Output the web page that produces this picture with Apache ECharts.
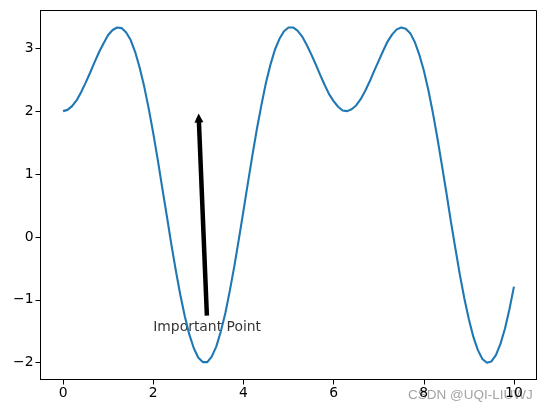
<!DOCTYPE html>
<html>
<head>
<meta charset="utf-8">
<script src="https://cdn.jsdelivr.net/npm/echarts@6/dist/echarts.min.js"></script>
<style>
html,body{margin:0;padding:0;background:#fff;}
#main{width:546px;height:413px;}
</style>
</head>
<body>
<div id="main"></div>
<script>
/*曲线采样点*/
var xs = [0.0,0.1,0.2,0.3,0.4,0.5,0.6,0.7,0.8,0.9,1.0,1.1,1.2,1.3,1.4,1.5,1.6,1.7,1.8,1.9,
	2.0,2.1,2.2,2.3,2.4,2.5,2.6,2.7,2.8,2.9,3.0,3.1,3.2,3.3,3.4,3.5,3.6,3.7,3.8,3.9,
	4.0,4.1,4.2,4.3,4.4,4.5,4.6,4.7,4.8,4.9,5.0,5.1,5.2,5.3,5.4,5.5,5.6,5.7,5.8,5.9,
	6.0,6.1,6.2,6.3,6.4,6.5,6.6,6.7,6.8,6.9,7.0,7.1,7.2,7.3,7.4,7.5,7.6,7.7,7.8,7.9,
	8.0,8.1,8.2,8.3,8.4,8.5,8.6,8.7,8.8,8.9,9.0,9.1,9.2,9.3,9.4,9.5,9.6,9.7,9.8,9.9,10.0];
var ys = [2.00,2.02,2.08,2.17,2.30,2.45,2.61,2.78,2.94,3.08,3.21,3.29,3.33,3.32,3.25,3.13,2.94,2.69,2.39,2.04,
	1.65,1.23,0.78,0.34,-0.11,-0.53,-0.92,-1.26,-1.55,-1.77,-1.92,-1.99,-1.99,-1.90,-1.74,-1.50,-1.21,-0.85,-0.46,-0.03,
	0.41,0.86,1.30,1.72,2.10,2.45,2.74,2.98,3.15,3.27,3.33,3.33,3.28,3.19,3.06,2.91,2.75,2.58,2.42,2.27,
	2.16,2.07,2.01,2.00,2.03,2.09,2.19,2.32,2.47,2.64,2.80,2.96,3.11,3.22,3.30,3.33,3.31,3.24,3.10,2.90,
	2.65,2.34,1.98,1.58,1.15,0.71,0.25,-0.18,-0.60,-0.98,-1.31,-1.59,-1.80,-1.94,-2.00,-1.98,-1.88,-1.70,-1.46,-1.15,-0.79];
/*刻度*/
var xTicks = [0,2,4,6,8,10];
var yTicks = [-2,-1,0,1,2,3];
/*标注: 箭头尾, 箭头头(三角中心), 文字位置*/
var arrowFrom = [3.19,-1.25];
var arrowTo = [3.01,1.89];
var noteAt = [2,-1.5];
var noteText = "Important Point";

var lineData = [];
for (var i = 0; i < xs.length; i++) {
	lineData.push([xs[i], ys[i]]);
}
var minus = function(v){ return String(v).replace('-', '\u2212'); };
var font = 'DejaVu Sans';

var chart = echarts.init(document.getElementById('main'));
var option = {
	animation: false,
	backgroundColor: '#fff',
	grid: {
		left: 40.5, right: 9.5, top: 10.5, bottom: 33.5,
		show: true, borderColor: '#000', borderWidth: 1
	},
	xAxis: {
		type: 'value', min: -0.5, max: 10.5,
		splitLine: {show: false},
		axisLine: {show: true, onZero: false, lineStyle: {color: '#000', width: 1}},
		axisTick: {show: true, length: 5, lineStyle: {color: '#000'}, customValues: xTicks},
		axisLabel: {color: '#000', fontSize: 13.9, fontFamily: font, margin: 7, customValues: xTicks, formatter: minus}
	},
	yAxis: {
		type: 'value', min: -2.267, max: 3.6,
		splitLine: {show: false},
		axisLine: {show: true, onZero: false, lineStyle: {color: '#000', width: 1}},
		axisTick: {show: true, length: 5, lineStyle: {color: '#000'}, customValues: yTicks},
		axisLabel: {color: '#000', fontSize: 13.9, fontFamily: font, margin: 7, customValues: yTicks, formatter: minus}
	},
	series: [{
		type: 'line',
		data: lineData,
		smooth: false,
		showSymbol: false,
		lineStyle: {color: '#1f77b4', width: 2.1},
		silent: true,
		markLine: {
			silent: true,
			animation: false,
			symbol: ['none', 'triangle'],
			symbolSize: 9,
			label: {show: false},
			itemStyle: {color: '#000'},
			lineStyle: {color: '#000', width: 4.5, type: 'solid'},
			emphasis: {disabled: true},
			data: [[{coord: arrowFrom}, {coord: arrowTo}]]
		}
	}, {
		type: 'scatter',
		data: [noteAt],
		symbolSize: 0,
		silent: true,
		label: {
			show: true, position: 'right', distance: 0, offset: [0, -4],
			formatter: noteText, color: '#000', fontSize: 13.9, fontFamily: font
		}
	}],
	graphic: [{
		type: 'text', left: 408, top: 388, silent: true,
		style: {text: 'CSDN @UQI-LIUWJ', fill: 'rgba(140,140,140,0.8)', font: '13.5px "Liberation Sans"'}
	}]
};
chart.setOption(option);
</script>
</body>
</html>
